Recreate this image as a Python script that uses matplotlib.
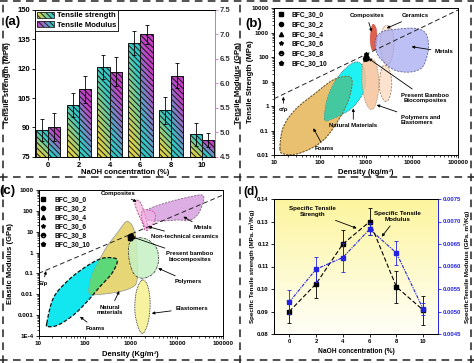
import numpy as np
import matplotlib
matplotlib.use("Agg")
import matplotlib.pyplot as plt
from matplotlib.lines import Line2D
from matplotlib.patches import Rectangle, Patch
from matplotlib.legend_handler import HandlerBase
from matplotlib.colors import to_rgb, to_rgba
from matplotlib.ticker import FuncFormatter, FormatStrFormatter, MultipleLocator

plt.rcParams["font.family"] = ["Liberation Sans", "DejaVu Sans"]
plt.rcParams["font.weight"] = "bold"
plt.rcParams["axes.labelweight"] = "bold"
plt.rcParams["hatch.linewidth"] = 0.7
plt.rcParams["axes.linewidth"] = 0.7

# ---- data ----
naoh = [0, 2, 4, 6, 8, 10]
tensile_strength = [88.6, 101.4, 121.0, 133.3, 98.7, 86.4]          # MPa
tensile_strength_err = [5.6, 6.2, 6.1, 6.1, 7.0, 6.0]
tensile_modulus = [5.11, 5.88, 6.24, 7.00, 6.16, 4.84]              # GPa
tensile_modulus_err = [0.28, 0.28, 0.30, 0.19, 0.25, 0.15]
density = [985, 990, 1008, 1025, 977, 955]                          # kg/m3
specific_strength = [0.0900, 0.1023, 0.1200, 0.1299, 0.1009, 0.0906]
specific_strength_err = [0.0052, 0.0065, 0.0061, 0.0060, 0.0073, 0.0064]
specific_modulus = [0.00521, 0.00594, 0.00620, 0.00683, 0.00630, 0.00505]
specific_modulus_err = [0.00026, 0.00028, 0.00033, 0.00013, 0.00026, 0.00013]
bfc_labels = ["BFC_30_0", "BFC_30_2", "BFC_30_4", "BFC_30_6", "BFC_30_8", "BFC_30_10"]

# Ashby regions, outline points as (log10 density, log10 property)
b_foams = [(1.13, -1.75), (1.20, -0.87), (1.46, -0.15), (1.88, 0.50), (2.32, 1.10), (2.68, 1.15),
           (2.62, 0.25), (2.34, -0.75), (2.02, -1.48), (1.55, -1.93), (1.22, -1.96)]
b_natural = [(2.10, -0.53), (2.17, 0.36), (2.39, 1.19), (2.69, 1.74), (2.87, 1.76), (2.98, 1.39),
             (2.98, 0.77), (2.84, 0.23), (2.62, -0.19), (2.25, -0.53)]
b_polymers = [(2.95, 1.87), (3.13, 1.94), (3.24, 1.60), (3.28, 0.77), (3.20, 0.02), (3.09, -0.12),
              (2.98, 0.23), (2.91, 1.05)]
b_elastomers = [(3.35, 1.60), (3.50, 1.53), (3.56, 0.91), (3.50, 0.30), (3.39, 0.23), (3.29, 0.77)]
b_ceramics = [(3.39, 3.24), (3.53, 3.22), (3.61, 2.70), (3.57, 2.01), (3.46, 1.67), (3.35, 2.01), (3.31, 2.70)]
b_composites = [(3.15, 3.35), (3.22, 3.18), (3.24, 2.70), (3.20, 2.35), (3.13, 2.31), (3.09, 2.70), (3.11, 3.11)]
b_metals = [(3.20, 2.70), (3.35, 3.04), (3.64, 3.14), (4.08, 3.18), (4.30, 2.97), (4.36, 2.42),
            (4.30, 1.87), (4.19, 1.53), (3.94, 1.39), (3.64, 1.46), (3.42, 1.74), (3.24, 2.15)]
b_line_density = [10, 100000]
b_line_strength = [2.0, 8500]

c_foams = [(1.18, -3.39), (1.32, -2.19), (1.61, -1.40), (1.97, -0.76), (2.33, -0.31), (2.59, -0.25),
           (2.71, -0.40), (2.59, -1.00), (2.33, -1.64), (2.05, -2.36), (1.76, -2.99), (1.43, -3.47), (1.21, -3.55)]
c_natural = [(2.10, -1.95), (2.15, -1.16), (2.30, -0.44), (2.48, 0.28), (2.70, 0.92), (2.88, 1.45),
             (2.97, 1.45), (3.06, 1.16), (3.12, 0.52), (3.14, -0.44), (3.13, -1.40), (2.99, -1.71),
             (2.70, -1.90), (2.33, -2.00)]
c_polymers = [(2.99, 0.52), (3.17, 0.71), (3.38, 0.60), (3.56, 0.21), (3.60, -0.44), (3.49, -1.00),
              (3.27, -1.23), (3.09, -1.08), (2.99, -0.60), (2.95, 0.04)]
c_elastomers = [(3.24, -1.32), (3.36, -1.55), (3.42, -2.36), (3.38, -3.31), (3.27, -3.87), (3.17, -3.63),
                (3.09, -2.83), (3.12, -1.88)]
c_composites = [(3.13, 2.52), (3.22, 2.36), (3.31, 1.80), (3.38, 1.16), (3.31, 1.08), (3.24, 1.48),
                (3.14, 1.99), (3.09, 2.36)]
c_metals = [(3.24, 1.80), (3.42, 2.12), (3.85, 2.44), (4.29, 2.68), (4.54, 2.76), (4.58, 2.52),
            (4.47, 1.88), (4.29, 1.56), (4.00, 1.56), (3.67, 1.51), (3.38, 1.56)]
c_ceramics = [(3.27, 2.04), (3.49, 1.96), (3.53, 1.64), (3.42, 1.16), (3.31, 1.24), (3.24, 1.64)]
c_line_density = [10, 100000]
c_line_modulus = [0.1, 575]

markers = ["s", "o", "^", "*", "o", "p"]

W, H = 474, 363
fig = plt.figure(figsize=(W / 100, H / 100), dpi=100)


def add_ax(l, t, r, b):
    return fig.add_axes([l / W, 1 - b / H, (r - l) / W, (b - t) / H])


def style(ax, size):
    ax.tick_params(labelsize=size, length=2.2, width=0.6, pad=1.5)
    ax.tick_params(which="minor", length=1.2, width=0.5)


def smooth_closed(pts, n=16):
    # closed Catmull-Rom curve through the outline points
    p = np.asarray(pts, float)
    t = np.linspace(0, 1, n, endpoint=False)[:, None]
    out = []
    for i in range(len(p)):
        p0, p1, p2, p3 = p[i - 1], p[i], p[(i + 1) % len(p)], p[(i + 2) % len(p)]
        out.append(0.5 * (2 * p1 + (-p0 + p2) * t + (2 * p0 - 5 * p1 + 4 * p2 - p3) * t ** 2
                          + (-p0 + 3 * p1 - 3 * p2 + p3) * t ** 3))
    return 10 ** np.vstack(out)


def region(ax, pts, fc, ec, ls, lw=0.6, alpha=1.0, z=1):
    p = smooth_closed(pts)
    face = to_rgba(fc, alpha) if fc != "none" else "none"
    return ax.fill(p[:, 0], p[:, 1], fc=face, ec=ec, ls=ls, lw=lw, zorder=z)[0]


def note(ax, text, xy, xytext, ha="center", fs=4.3):
    ax.annotate(text, xy=xy, xycoords="axes fraction", xytext=xytext, textcoords="axes fraction",
                ha=ha, va="center", fontsize=fs, fontweight="bold", zorder=9,
                arrowprops=dict(arrowstyle="-|>", color="k", lw=0.6, mutation_scale=4,
                                shrinkA=1, shrinkB=0))


def log_fmt(v, pos):
    return "1E-4" if v < 5e-4 else f"{v:g}"


def grad_img(ax, x0, x1, y0, y1, c_top, c_bot, z):
    yn = np.linspace(0, 1, 60)[:, None]
    xn = np.linspace(0, 1, 12)[None, :]
    t = np.clip(1.05 - yn * 1.2 + (0.5 - xn) * 0.6, 0, 1)[..., None]
    rgb = np.array(to_rgb(c_top)) * (1 - t) + np.array(to_rgb(c_bot)) * t
    return ax.imshow(rgb, extent=(x0, x1, y0, y1), origin="lower", aspect="auto",
                     interpolation="bilinear", zorder=z)


class GradHandler(HandlerBase):
    def __init__(self, c0, c1):
        super().__init__()
        self.c0 = np.array(to_rgb(c0))
        self.c1 = np.array(to_rgb(c1))

    def create_artists(self, legend, orig_handle, xdescent, ydescent, width, height, fontsize, trans):
        arts = []
        n = 12
        for i in range(n):
            f = i / (n - 1)
            arts.append(Rectangle((-xdescent + width * i / n, -ydescent), width / n * 1.05, height,
                                  fc=self.c0 * (1 - f) + self.c1 * f, ec="none", transform=trans))
        arts.append(Rectangle((-xdescent, -ydescent), width, height, fc="none", ec="#202020", lw=0.6,
                              hatch="\\" * 6, transform=trans))
        return arts


teal, yellow, magenta = "#33c8c6", "#dcd24a", "#c63ec6"

# ---------------- (a) ----------------
ax = add_ax(35, 10, 215, 156.7)
ax2 = ax.twinx()
x = np.array(naoh, float)
bars1 = ax.bar(x - 0.4, tensile_strength, 0.8, fc="none", ec="#151515", lw=0.7, hatch="\\" * 6, zorder=3)
bars2 = ax2.bar(x + 0.4, tensile_modulus, 0.8, fc="none", ec="#151515", lw=0.7, hatch="\\" * 6, zorder=3)
for i, r in enumerate(bars1):
    im = grad_img(ax, x[i] - 0.8, x[i], 75, tensile_strength[i], teal, yellow, 2)
    im.set_clip_path(r)
for i, r in enumerate(bars2):
    im = grad_img(ax2, x[i], x[i] + 0.8, 4.5, tensile_modulus[i], magenta, teal, 2)
    im.set_clip_path(r)
ax.errorbar(x - 0.4, tensile_strength, yerr=tensile_strength_err, fmt="none", ecolor="k",
            elinewidth=0.6, capsize=1.6, capthick=0.6, zorder=5)
ax2.errorbar(x + 0.4, tensile_modulus, yerr=tensile_modulus_err, fmt="none", ecolor="k",
             elinewidth=0.6, capsize=1.6, capthick=0.6, zorder=5)
ax.set_xlim(-0.86, 10.86)
ax.set_ylim(75, 150)
ax.set_yticks(np.arange(75, 151, 15))
ax.set_xticks(naoh)
ax2.set_ylim(4.5, 7.5)
ax2.set_yticks(np.arange(4.5, 7.51, 0.5))
ax2.yaxis.set_major_formatter(FormatStrFormatter("%.1f"))
for a in (ax, ax2):
    style(a, 5.5)
ax.spines["right"].set_visible(False)
ax2.spines["right"].set_color("#d070d0")
ax2.tick_params(axis="y", colors="#d070d0", labelcolor="#333333")
ax.set_xlabel("NaOH concentration (%)", fontsize=5.5, va="center")
ax.xaxis.set_label_coords(0.5, -0.111)
ax.set_ylabel("Tensile strength (MPa)", fontsize=5.5, va="center")
ax.yaxis.set_label_coords(-0.15, 0.5)
ax2.set_ylabel("Tensile Modulus (GPa)", fontsize=5.5, va="center")
ax2.yaxis.set_label_coords(1.128, 0.5)
h1, h2 = Patch(label="Tensile strength"), Patch(label="Tensile Modulus")
leg = ax2.legend([h1, h2], ["Tensile strength", "Tensile Modulus"],
                 handler_map={h1: GradHandler(yellow, teal), h2: GradHandler(magenta, teal)},
                 loc="upper left", bbox_to_anchor=(0, 1), borderaxespad=0, fontsize=5.5,
                 handlelength=2.2, handleheight=0.8, borderpad=0.25, labelspacing=0.2,
                 handletextpad=0.4, fancybox=False, framealpha=1)
leg.get_frame().set_edgecolor("k")
leg.get_frame().set_linewidth(0.6)
leg.set_zorder(10)

# ---------------- (b) ----------------
bx = add_ax(274, 8.3, 458, 155)
bx.set_xscale("log")
bx.set_yscale("log")
foams = region(bx, b_foams, "#e8c070", "#7a6030", (0, (2.5, 1.5)), z=1)
region(bx, b_natural, "#1ef2f2", "#406060", (0, (1, 1)), z=2)
ov = region(bx, b_natural, "#44c8a0", "none", "-", z=2.5)
ov.set_clip_path(foams)
region(bx, b_foams, "none", "#7a6030", (0, (2.5, 1.5)), z=2.6)
region(bx, b_polymers, "#f6c49c", "#a08060", (0, (1, 1)), alpha=0.85, z=3)
region(bx, b_elastomers, "#fadcc4", "#a08060", (0, (2.5, 1.5)), alpha=0.8, z=3)
region(bx, b_ceramics, "#fbe4d0", "#a08060", (0, (1, 1)), alpha=0.8, z=3)
region(bx, b_composites, "#e0604c", "#c04040", "-", lw=0.3, z=4)
region(bx, b_metals, "#a0a6f2", "#606090", (0, (2.5, 1.5)), alpha=0.7, z=5)
bx.plot(b_line_density, b_line_strength, color="#222222", lw=0.7, ls=(0, (5, 3)), zorder=6)
for i in range(6):
    kw = dict(fillstyle="top", markerfacecoloralt="white") if i == 4 else {}
    bx.plot(density[i], tensile_strength[i], marker=markers[i], ms=3, color="k", ls="none",
            label=bfc_labels[i], zorder=7, **kw)
bx.set_xlim(10, 100000)
bx.set_ylim(0.01, 10000)
bx.set_yticks([0.01, 0.1, 1, 10, 100, 1000, 10000])
bx.set_xticks([10, 100, 1000, 10000, 100000])
bx.xaxis.set_major_formatter(FuncFormatter(log_fmt))
bx.yaxis.set_major_formatter(FuncFormatter(log_fmt))
style(bx, 4.5)
bx.legend(loc="upper left", bbox_to_anchor=(0.018, 0.978), borderaxespad=0, borderpad=0,
          frameon=False, fontsize=4.8, handlelength=1, handletextpad=1.1, labelspacing=0.4)
bx.set_xlabel("Density (kg/m³)", fontsize=5.5, va="center")
bx.xaxis.set_label_coords(0.5, -0.12)
bx.set_ylabel("Tensile Strength (MPa)", fontsize=5.5, va="center")
bx.yaxis.set_label_coords(-0.13, 0.5)
note(bx, "Composites", (0.531, 0.840), (0.504, 0.948))
note(bx, "Ceramics", (0.612, 0.864), (0.766, 0.948))
note(bx, "Metals", (0.748, 0.738), (0.926, 0.704))
note(bx, "Present Bamboo\nBiocomposites", (0.513, 0.659), (0.821, 0.389))
note(bx, "Polymers and\nElastomers", (0.558, 0.341), (0.690, 0.239), ha="left")
note(bx, "Natural Materials", (0.431, 0.318), (0.431, 0.198))
note(bx, "Foams", (0.214, 0.182), (0.273, 0.046))
note(bx, "σ/ρ", (0.051, 0.397), (0.051, 0.307))

# ---------------- (c) ----------------
cx = add_ax(38.5, 190, 223, 336)
cx.set_xscale("log")
cx.set_yscale("log")
cfoams = region(cx, c_foams, "#12e6ee", "none", "-", z=1)
region(cx, c_natural, "#e6d676", "#909090", "-", lw=0.5, z=2)
ov = region(cx, c_natural, "#5cd878", "none", "-", z=2.5)
ov.set_clip_path(cfoams)
region(cx, c_foams, "none", "#111111", (0, (3, 1.5)), lw=0.9, z=2.6)
region(cx, c_polymers, "#c6f2c4", "#404040", (0, (3, 1, 1, 1)), alpha=0.85, z=3)
region(cx, c_elastomers, "#f6f2a0", "#202020", (0, (1, 1)), z=3)
region(cx, c_metals, "#d6a0de", "#806080", (0, (2.5, 1.5)), alpha=0.85, z=4)
region(cx, c_composites, "#f8c6e6", "#a04080", (0, (2.5, 1.5)), alpha=0.9, z=4.5)
region(cx, c_ceramics, "#f4b0e4", "#c040a0", (0, (2, 1.5)), alpha=0.6, z=4.6)
cx.plot(c_line_density, c_line_modulus, color="#222222", lw=0.7, ls=(0, (5, 3)), zorder=6)
for i in range(6):
    kw = dict(fillstyle="top", markerfacecoloralt="white") if i == 4 else {}
    cx.plot(density[i], tensile_modulus[i], marker=markers[i], ms=3, color="k", ls="none",
            label=bfc_labels[i], zorder=7, **kw)
cx.set_xlim(10, 100000)
cx.set_ylim(1e-4, 1000)
cx.set_yticks([1e-4, 1e-3, 1e-2, 0.1, 1, 10, 100, 1000])
cx.set_xticks([10, 100, 1000, 10000, 100000])
cx.xaxis.set_major_formatter(FuncFormatter(log_fmt))
cx.yaxis.set_major_formatter(FuncFormatter(log_fmt))
style(cx, 4.5)
cx.legend(loc="upper left", bbox_to_anchor=(0.008, 0.955), borderaxespad=0, borderpad=0,
          frameon=False, fontsize=4.8, handlelength=1, handletextpad=1.2, labelspacing=0.3)
cx.set_xlabel("Density (Kg/m³)", fontsize=5.5, va="center")
cx.xaxis.set_label_coords(0.5, -0.13)
cx.set_ylabel("Elastic Modulus (GPa)", fontsize=5.5, va="center")
cx.yaxis.set_label_coords(-0.154, 0.5)
note(cx, "Composites", (0.532, 0.920), (0.433, 0.977))
note(cx, "Metals", (0.785, 0.817), (0.890, 0.742))
note(cx, "Non-technical ceramics", (0.595, 0.749), (0.794, 0.680))
note(cx, "Present bamboo\nbiocomposites", (0.505, 0.680), (0.821, 0.543))
note(cx, "Polymers", (0.649, 0.464), (0.812, 0.372))
note(cx, "Elastomers", (0.614, 0.155), (0.830, 0.190))
note(cx, "Natural\nmaterials", (0.438, 0.308), (0.388, 0.178))
note(cx, "Foams", (0.225, 0.132), (0.306, 0.053))
note(cx, "E/ρ", (0.041, 0.445), (0.024, 0.360))

# ---------------- (d) ----------------
dx = add_ax(274, 199, 438, 334)
dx2 = dx.twinx()
bg_t = np.linspace(0, 1, 100)[:, None, None]
bg = np.array([1.0, 1.0, 0.97]) * (1 - bg_t) + np.array([0.99, 0.96, 0.62]) * bg_t
dx.imshow(bg, extent=(0, 1, 0, 1), transform=dx.transAxes, origin="lower", aspect="auto", zorder=0)
blue = "#2424e0"
dx.errorbar(naoh, specific_strength, yerr=specific_strength_err, color="k", ls=(0, (4, 2)), lw=0.8,
            marker="s", ms=2.5, elinewidth=0.6, capsize=1.6, capthick=0.6, zorder=4)
dx2.errorbar(naoh, specific_modulus, yerr=specific_modulus_err, color=blue, ls=(0, (3, 1, 1, 1)),
             lw=0.8, marker="s", ms=2.5, elinewidth=0.6, capsize=1.6, capthick=0.6, zorder=4)
dx.set_xlim(-1.14, 11.1)
dx.set_ylim(0.08, 0.14)
dx.set_xticks(naoh)
dx.yaxis.set_major_locator(MultipleLocator(0.01))
dx.yaxis.set_major_formatter(FormatStrFormatter("%.2f"))
dx2.set_ylim(0.0045, 0.0075)
dx2.yaxis.set_major_locator(MultipleLocator(0.0005))
dx2.yaxis.set_major_formatter(FormatStrFormatter("%.4f"))
style(dx, 4.2)
style(dx2, 4.2)
dx.spines["right"].set_visible(False)
dx2.spines["right"].set_color(blue)
dx2.tick_params(axis="y", colors=blue)
dx.set_xlabel("NaOH concentration (%)", fontsize=4.8, va="center")
dx.xaxis.set_label_coords(0.5, -0.131)
dx.set_ylabel("Specific Tensile strength (MPa. m³/Kg)", fontsize=4.5, va="center")
dx.yaxis.set_label_coords(-0.134, 0.5)
dx2.set_ylabel("SpecificTensile Modulus (GPa. m³/Kg)", fontsize=4.5, va="center")
dx2.yaxis.set_label_coords(1.18, 0.5)
note(dx2, "Specific Tensile\nStrength", (0.504, 0.783), (0.234, 0.906), fs=4.5)
note(dx2, "Specific Tensile\nModulus", (0.657, 0.721), (0.752, 0.869), fs=4.5)

# panel letters
for lbl, px, py, fs in [("(a)", 12.5, 22, 9.5), ("(b)", 253.5, 24, 9.5), ("(c)", 7, 191, 9.5),
                        ("(d)", 251, 192, 8.5)]:
    fig.text(px / W, 1 - py / H, lbl, fontsize=fs, fontweight="bold", ha="center", va="center")

# dashed frame around the panels
dash = dict(transform=fig.transFigure, ls=(0, (5, 3.5)), lw=1.1, color="#222222")
for yy in (1, 177, 360):
    fig.add_artist(Line2D([0, 1], [1 - yy / H, 1 - yy / H], **dash))
for xx in (3, 240, 471):
    fig.add_artist(Line2D([xx / W, xx / W], [0, 1], **dash))

fig.savefig("out.png", dpi=100)
